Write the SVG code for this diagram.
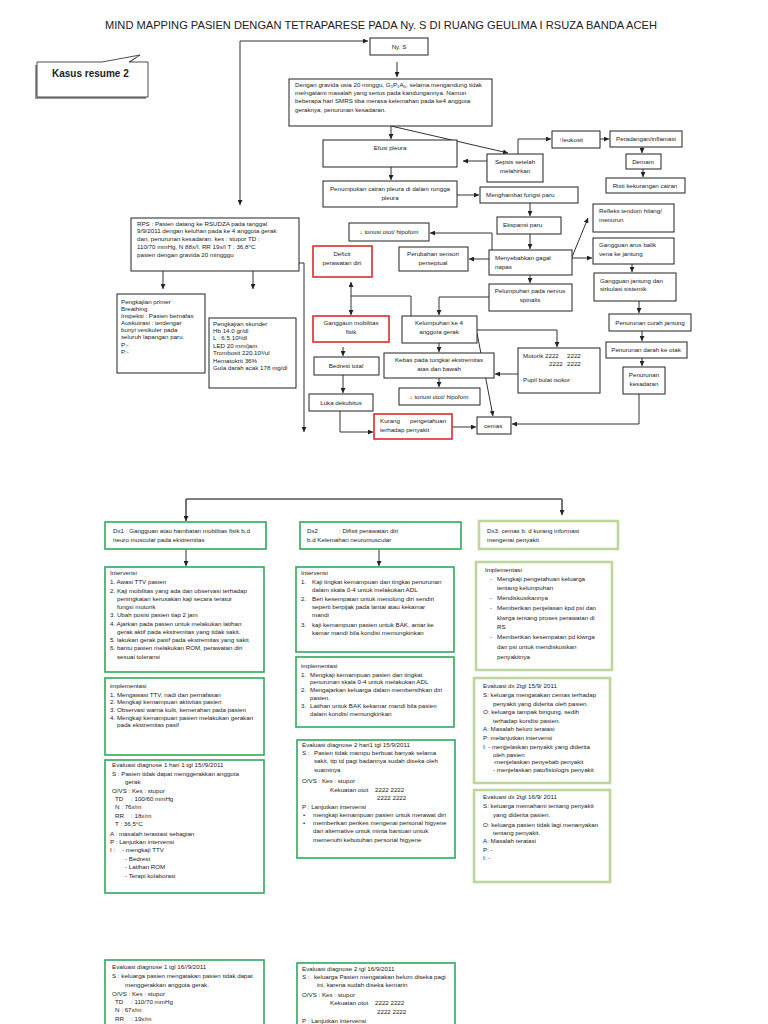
<svg xmlns="http://www.w3.org/2000/svg" width="768" height="1024" viewBox="0 0 768 1024">
<style>
.b{fill:#fff;stroke:#222;stroke-width:1}
.r{fill:#fff;stroke:#e02a2a;stroke-width:1.6}
.g{fill:#fff;stroke:#2eaa5a;stroke-width:1.6}
.lg{fill:#fff;stroke:#bdd69c;stroke-width:2.6}
text{font-family:"Liberation Sans",Arial,sans-serif;font-size:6.2px;fill:#222}
.c{text-anchor:middle}
.ln{stroke:#333;stroke-width:1;fill:none}
.ln2{stroke:#555;stroke-width:1.6;fill:none}
</style>
<defs>
<marker id="a" viewBox="0 0 6 6" refX="6" refY="3" markerWidth="5" markerHeight="5" orient="auto-start-reverse" markerUnits="userSpaceOnUse"><path d="M0,0 L6,3 L0,6 z" fill="#222"/></marker>
</defs>
<rect width="768" height="1024" fill="#fff"/>
<text x="381" y="29" class="c" style="font-size:10.5px" textLength="552" lengthAdjust="spacingAndGlyphs">MIND MAPPING PASIEN DENGAN TETRAPARESE PADA Ny. S DI RUANG GEULIMA I RSUZA BANDA ACEH</text>

<g id="kasus">
<path d="M35,65 L100,65 L138,57 L127,65 L146,65 L146,99 L35,99 Z" fill="#999"/>
<path d="M37,62 L102,62 L140,55 L129,62 L148,62 L148,97 L37,97 Z" fill="#fff" stroke="#222" stroke-width="0.8"/>
<text x="52" y="77" style="font-size:10px;font-weight:bold">Kasus resume 2</text>
</g>

<g id="connectors">
<path class="ln" d="M240,205 V41 H368" marker-start="url(#a)" marker-end="url(#a)"/>
<path class="ln" d="M397,62 V77" marker-end="url(#a)"/>
<path class="ln" d="M391,126 V139" marker-end="url(#a)"/>
<path class="ln" d="M391,126 L508,153" marker-end="url(#a)"/>
<path class="ln" d="M487,161 H463" marker-end="url(#a)"/>
<path class="ln" d="M391,167 V180" marker-end="url(#a)"/>
<path class="ln" d="M457,195 H479" marker-end="url(#a)"/>
<path class="ln" d="M518,154 V139 H551" marker-end="url(#a)"/>
<path class="ln" d="M600,139 H609" marker-end="url(#a)"/>
<path class="ln" d="M642,147 V153" marker-end="url(#a)"/>
<path class="ln" d="M643,169 V177" marker-end="url(#a)"/>
<path class="ln" d="M530,203 V216" marker-end="url(#a)"/>
<path class="ln" d="M530,234 V249" marker-end="url(#a)"/>
<path class="ln" d="M492,250 V233 H430" marker-end="url(#a)"/>
<path class="ln" d="M489,259 H469" marker-end="url(#a)"/>
<path class="ln" d="M572,257 L588,218" marker-end="url(#a)"/>
<path class="ln" d="M572,258 H592" marker-end="url(#a)"/>
<path class="ln" d="M632,264 V272" marker-end="url(#a)"/>
<path class="ln" d="M639,301 V313" marker-end="url(#a)"/>
<path class="ln" d="M642,331 V341" marker-end="url(#a)"/>
<path class="ln" d="M642,358 V366" marker-end="url(#a)"/>
<path class="ln" d="M639,394 V424 H512" marker-end="url(#a)"/>
<path class="ln" d="M530,275 V283" marker-end="url(#a)"/>
<path class="ln" d="M489,297 H439 V315" marker-end="url(#a)"/>
<path class="ln" d="M351,282 V315" marker-start="url(#a)" marker-end="url(#a)"/>
<path class="ln" d="M411,316 V296 H351"/>
<path class="ln" d="M439,343 V352" marker-end="url(#a)"/>
<path class="ln" d="M477,330 H557 V347" marker-end="url(#a)"/>
<path class="ln" d="M477,333 L493,416" marker-end="url(#a)"/>
<path class="ln" d="M439,378 V387" marker-end="url(#a)"/>
<path class="ln" d="M518,374 H495" marker-end="url(#a)"/>
<path class="ln" d="M343,347 V356" marker-end="url(#a)"/>
<path class="ln" d="M343,375 V393" marker-end="url(#a)"/>
<path class="ln" d="M340,411 V432 H373" marker-end="url(#a)"/>
<path class="ln" d="M452,427 H476" marker-end="url(#a)"/>
<path class="ln" d="M163,271 V289" marker-end="url(#a)"/>
<path class="ln" d="M253,271 V289" marker-end="url(#a)"/>
<path class="ln" d="M299,263 H304 V432" marker-end="url(#a)"/>
<path class="ln2" d="M186,499 H562"/>
<path class="ln2" d="M186,499 V521" marker-end="url(#a)"/>
<path class="ln2" d="M562,499 V515" marker-end="url(#a)"/>
<path class="ln" d="M186,549 V566" marker-end="url(#a)"/>
<path class="ln" d="M379,549 V566" marker-end="url(#a)"/>
</g>

<g id="nyS"><rect class="b" x="370" y="38" width="58" height="17"/><text x="399" y="48.5" class="c">Ny. S</text></g>
<g id="main"><rect class="b" x="289" y="79" width="203" height="47"/>
<text x="295" y="87">Dengan gravida usia 20 minggu, G<tspan style="font-size:4.2px" dy="1">1</tspan><tspan dy="-1">P</tspan><tspan style="font-size:4.2px" dy="1">1</tspan><tspan dy="-1">A</tspan><tspan style="font-size:4.2px" dy="1">0</tspan><tspan dy="-1">, selama mengandung tidak</tspan></text>
<text x="295" y="95">melngalami masalah yang serius pada kandungannya. Namun</text>
<text x="295" y="103">beberapa hari SMRS tiba merasa kelemahan pada ke4 anggota</text>
<text x="295" y="112">geraknya, penurunan kesadaran.</text></g>
<g id="efusi"><rect class="b" x="323" y="140" width="134" height="27"/><text x="390" y="150" class="c">Efusi pleura</text></g>
<g id="penumpukan"><rect class="b" x="323" y="181" width="134" height="26"/><text x="390" y="191" class="c">Penumpukan cairan pleura di dalam rongga</text><text x="390" y="200" class="c">pleura</text></g>
<g id="sepsis"><rect class="b" x="487" y="154" width="56" height="28"/><text x="515" y="164" class="c">Sepsis setelah</text><text x="515" y="173" class="c">melahirkan</text></g>
<g id="leukosit"><rect class="b" x="552" y="131" width="48" height="17"/><text x="559" y="142">↑leukosit</text></g>
<g id="peradangan"><rect class="b" x="610" y="131" width="72" height="16"/><text x="646" y="141" class="c">Peradangan/inflamasi</text></g>
<g id="demam"><rect class="b" x="626" y="154" width="35" height="15"/><text x="643" y="164" class="c">Demam</text></g>
<g id="risti"><rect class="b" x="606" y="178" width="79" height="15"/><text x="645" y="188" class="c">Risti kekurangan cairan</text></g>
<g id="menghambat"><rect class="b" x="480" y="187" width="98" height="16"/><text x="486" y="197">Menghambat fungsi paru</text></g>
<g id="ekspansi"><rect class="b" x="497" y="217" width="64" height="17"/><text x="503" y="227">Ekspansi paru</text></g>
<g id="tonus1"><rect class="b" x="349" y="223" width="80" height="18"/><text x="389" y="234" class="c">↓ tonusi otot/ hipofom</text></g>
<g id="deficit"><rect class="r" x="313" y="246" width="59" height="31"/><text x="342" y="256" class="c">Deficit</text><text x="342" y="265" class="c">perawatan diri</text></g>
<g id="perubahan"><rect class="b" x="399" y="247" width="69" height="24"/><text x="433" y="256" class="c">Perubahan sensori</text><text x="433" y="265" class="c">perseptual</text></g>
<g id="menyebabkan"><rect class="b" x="489" y="250" width="83" height="25"/><text x="495" y="260">Menyebabkan gagal</text><text x="495" y="269">napas</text></g>
<g id="refleks"><rect class="b" x="593" y="204" width="81" height="28"/><text x="599" y="213">Refleks tendom hilang/</text><text x="599" y="222">menurun</text></g>
<g id="arus"><rect class="b" x="593" y="238" width="81" height="26"/><text x="599" y="247">Gangguan arus balik</text><text x="599" y="256">vena ke jantung</text></g>
<g id="jantung"><rect class="b" x="594" y="273" width="82" height="28"/><text x="600" y="283">Gangguan jantung dan</text><text x="600" y="291">sirkulasi sistemik</text></g>
<g id="pelumpuhan"><rect class="b" x="489" y="284" width="83" height="27"/><text x="530" y="293" class="c">Pelumpuhan pada nervus</text><text x="530" y="302" class="c">spinalis</text></g>
<g id="curah"><rect class="b" x="609" y="314" width="82" height="17"/><text x="650" y="324.5" class="c">Penurunan curah jantung</text></g>
<g id="darah"><rect class="b" x="606" y="342" width="81" height="16"/><text x="646" y="352" class="c">Penurunan darah ke otak</text></g>
<g id="kesadaran"><rect class="b" x="623" y="367" width="42" height="27"/><text x="644" y="377" class="c">Penurunan</text><text x="644" y="386" class="c">kesadaran</text></g>
<g id="mobilitas"><rect class="r" x="313" y="316" width="76" height="26"/><text x="351" y="325" class="c">Ganggaun mobilitas</text><text x="351" y="334" class="c">fisik</text></g>
<g id="kelumpuhan"><rect class="b" x="402" y="316" width="75" height="27"/><text x="439" y="325" class="c">Kelumpuhan ke 4</text><text x="439" y="334" class="c">anggota gerak</text></g>
<g id="kebas"><rect class="b" x="384" y="353" width="110" height="25"/><text x="439" y="362" class="c">Kebas pada tungkai ekstremitas</text><text x="439" y="371" class="c">atas dan bawah</text></g>
<g id="motorik"><rect class="b" x="518" y="348" width="82" height="45"/><text x="523" y="358">Motorik 2222</text><text x="567" y="358">2222</text><text x="549" y="366">2222</text><text x="567" y="366">2222</text><text x="523" y="382">Pupil bulat isokor</text></g>
<g id="bedrest"><rect class="b" x="314" y="357" width="65" height="18"/><text x="346" y="367.5" class="c">Bedrest total</text></g>
<g id="tonus2"><rect class="b" x="399" y="388" width="81" height="17"/><text x="439" y="398.5" class="c">↓ tonusi otot/ hipofom</text></g>
<g id="luka"><rect class="b" x="309" y="394" width="64" height="17"/><text x="341" y="404.5" class="c">Luka dekubitus</text></g>
<g id="kurang"><rect class="r" x="374" y="414" width="78" height="25"/><text x="380" y="423">Kurang</text><text x="410" y="423">pengetahuan</text><text x="380" y="432">terhadap penyakit</text></g>
<g id="cemas"><rect class="b" x="477" y="417" width="34" height="17"/><text x="484" y="427.5">cemas</text></g>
<g id="rps"><rect class="b" x="131" y="218" width="168" height="53"/>
<text x="137" y="226">RPS : Pasien datang ke RSUDZA pada tanggal</text>
<text x="137" y="233">9/9/2011 dengan keluhan pada ke 4 anggota gerak</text>
<text x="137" y="241">dan, penurunan kesadaran. kes : stupor TD :</text>
<text x="137" y="249">110/70 mmHg, N 88x/I, RR 19x/I T : 36,8°C</text>
<text x="137" y="257">pasien dengan gravida 20 mingggu</text></g>
<g id="primer"><rect class="b" x="117" y="294" width="88" height="79"/>
<text x="121" y="304">Pengkajian primer</text><text x="121" y="311">Breathing</text><text x="121" y="318">Inspeksi : Pasien bernafas</text><text x="121" y="325">Auskutrasi : terdengar</text><text x="121" y="332">bunyi vesikuler pada</text><text x="121" y="339">seluruh lapangan paru.</text><text x="121" y="347">P:-</text><text x="121" y="354">P:-</text></g>
<g id="skunder"><rect class="b" x="209" y="318" width="87" height="70"/>
<text x="213" y="326">Pengkajian skunder</text><text x="213" y="333">Hb 14.0 gr/dl</text><text x="213" y="340">L : 6,5.10³/dl</text><text x="213" y="348">LED 20 mm/jam</text><text x="213" y="355">Trombosit 220.10³/ul</text><text x="213" y="363">Hematokrit 36%</text><text x="213" y="370">Gula darah acak 178 mg/dl</text></g>

<g id="dx1"><rect class="g" x="105" y="522" width="161" height="27"/><text x="113" y="533">Dx1 : Gangguan atau hambatan mobilitas fisik b.d</text><text x="113" y="542">neuro muscular pada ekstremitas</text></g>
<g id="dx2"><rect class="g" x="300" y="522" width="161" height="27"/><text x="307" y="533">Dx2</text><text x="339" y="533">: Difisit perawatan diri</text><text x="307" y="542">b.d Kelemahan neuromuscular</text></g>
<g id="dx3"><rect class="lg" x="479" y="521" width="139" height="28"/><text x="487" y="533">Dx3: cemas b. d kurang informasi</text><text x="487" y="542">mengenai penyakit</text></g>

<g id="int1"><rect class="g" x="105" y="567" width="159" height="105"/>
<text x="110" y="575">Intervensi</text>
<text x="110" y="584">1. Awasi TTV pasien</text>
<text x="110" y="593">2. Kaji mobilitas yang ada dan observasi terhadap</text>
<text x="117" y="601">peningkatan  kerusakan  kaji  secara  teratur</text>
<text x="117" y="609">fungsi motorik</text>
<text x="110" y="617">3. Ubah posisi pasien tiap 2 jam</text>
<text x="110" y="626">4. Ajarkan pada pasien untuk melakukan latihan</text>
<text x="117" y="634">gerak aktif pada ekstremitas yang tidak sakit.</text>
<text x="110" y="642">5. lakukan gerak pasif pada ekstremitas yang sakit</text>
<text x="110" y="650">6. bantu pasien melakukan ROM, perawatan diri</text>
<text x="117" y="659">sesuai toleransi</text></g>
<g id="imp1"><rect class="g" x="105" y="678" width="159" height="77"/>
<text x="110" y="688">implementasi</text>
<text x="110" y="697">1. Mengawasi TTV, nadi dan pernafasan</text>
<text x="110" y="704">2. Mengkaji kemampuan aktivitas pasien</text>
<text x="110" y="712">3. Observasi warna kulit, kemerahan pada pasien</text>
<text x="110" y="720">4. Mengkaji kemampuan pasien melakukan gerakan</text>
<text x="117" y="727">pada ekstremitas pasif</text></g>
<g id="eval1"><rect class="g" x="105" y="760" width="159" height="133"/>
<text x="112" y="767">Evaluasi diagnose 1 hari 1 tgl 15//9/2011</text>
<text x="112" y="776">S :  Pasien  tidak  dapat  menggerakkan  anggota</text>
<text x="125" y="784">gerak</text>
<text x="112" y="793">O/VS : Kes : stupor</text>
<text x="115" y="801">TD</text><text x="131" y="801">: 100/60 mmHg</text>
<text x="115" y="809">N : 76x/m</text>
<text x="115" y="818">RR</text><text x="131" y="818">: 18x/m</text>
<text x="115" y="826">T : 36,5°C</text>
<text x="110" y="836">A : masalah terastasi sebagian</text>
<text x="110" y="844">P  : Lanjutkan intervensi</text>
<text x="110" y="852">I  :</text><text x="122" y="852">- mengkaji TTV</text>
<text x="125" y="861">- Bedrest</text>
<text x="125" y="869">- Latihan ROM</text>
<text x="125" y="878">- Terapi kolaborasi</text></g>
<g id="eval1b"><rect class="g" x="105" y="960" width="159" height="70"/>
<text x="112" y="969">Evaluasi diagnose 1 tgl 16//9/2011</text>
<text x="112" y="978">S :  keluarga pasien mengatakan pasien tidak dapat</text>
<text x="125" y="987">menggerakkan anggota gerak.</text>
<text x="112" y="996">O/VS : Kes : stupor</text>
<text x="115" y="1004">TD</text><text x="131" y="1004">: 110/70 mmHg</text>
<text x="115" y="1012">N : 67x/m</text>
<text x="115" y="1021">RR</text><text x="131" y="1021">: 19x/m</text></g>

<g id="int2"><rect class="g" x="296" y="567" width="158" height="85"/>
<text x="301" y="575">Intervensi</text>
<text x="301" y="584">1.</text><text x="312" y="584">Kaji tingkat kemampuan dan tingkat penurunan</text>
<text x="312" y="592">dalam skala 0-4 untuk melakukan ADL</text>
<text x="301" y="601">2.</text><text x="312" y="601">Beri kesempatan untuk menolong diri sendiri</text>
<text x="312" y="609">seperti berpijak pada lantai atau kekamar</text>
<text x="312" y="617">mandi</text>
<text x="301" y="627">3.</text><text x="312" y="627">kaji kemampuan pasien untuk BAK, antar ke</text>
<text x="312" y="635">kamar mandi bila kondisi memungkinkan</text></g>
<g id="imp2"><rect class="g" x="296" y="657" width="158" height="70"/>
<text x="301" y="668">implementasi</text>
<text x="301" y="677">1.</text><text x="310" y="677">Mengkaji  kemampuan  pasien  dan  tingkat</text>
<text x="310" y="684">penurunan skala 0-4 untuk melakukan ADL</text>
<text x="301" y="692">2.</text><text x="310" y="692">Mengajarkan keluarga dalam membersihkan diri</text>
<text x="310" y="700">pasien.</text>
<text x="301" y="708">3.</text><text x="310" y="708">Latihan untuk BAK kekamar mandi bila pasien</text>
<text x="310" y="716">dalam kondisi memungkinkan</text></g>
<g id="eval2"><rect class="g" x="297" y="740" width="158" height="118"/>
<text x="302" y="747">Evaluasi diagnose 2 hari1 tgl 15/9/2011</text>
<text x="302" y="755">S :</text><text x="314" y="755">Pasien  tidak  mampu  berbuat  banyak  selama</text>
<text x="314" y="763">sakit, ttp td pagi badannya sudah diseka oleh</text>
<text x="314" y="772">suaminya</text>
<text x="302" y="783">O/VS : Kes : stupor</text>
<text x="330" y="792">Kekuatan otot</text><text x="375" y="792">2222  2222</text>
<text x="377" y="800">2222  2222</text>
<text x="302" y="809">P  : Lanjutkan intervensi</text>
<text x="303" y="817">•</text><text x="313" y="817">mengkaji kemampuan pasien untuk merawat diri</text>
<text x="303" y="825">•</text><text x="313" y="825">memberikan penkes mengenai personal higyene</text>
<text x="313" y="833">dan alternative untuk minta bantuan untuk</text>
<text x="313" y="842">memenuhi kebutuhan personal higyene</text></g>
<g id="eval2b"><rect class="g" x="297" y="963" width="158" height="70"/>
<text x="302" y="971">Evaluasi diagnose 2 tgl 16/9/2011</text>
<text x="302" y="979">S :</text><text x="314" y="979">keluarga Pasien mengatakan belum diseka pagi</text>
<text x="317" y="987">ini, karena sudah diseka kemarin</text>
<text x="302" y="997">O/VS : Kes : stupor</text>
<text x="330" y="1005">Kekuatan otot</text><text x="375" y="1005">2222  2222</text>
<text x="377" y="1014">2222  2222</text>
<text x="302" y="1023">P  : Lanjutkan intervensi</text></g>

<g id="imp3"><rect class="lg" x="476" y="562" width="136" height="108"/>
<text x="485" y="572">Implementasi</text>
<text x="490" y="581">-</text><text x="497" y="581">Mengkaji pengetahuan keluarga</text>
<text x="497" y="590">tentang kelumpuhan</text>
<text x="490" y="600">-</text><text x="497" y="600">Mendiskusikannya</text>
<text x="490" y="610">-</text><text x="497" y="610">Memberikan penjelasan kpd psi dan</text>
<text x="497" y="620">klwrga tentang proses perawatan di</text>
<text x="497" y="629">RS</text>
<text x="490" y="639">-</text><text x="497" y="639">Memberikan kesempatan pd klwrga</text>
<text x="497" y="649">dan psi untuk mendiskusikan</text>
<text x="497" y="659">penyakitnya</text></g>
<g id="eval3"><rect class="lg" x="474" y="678" width="136" height="105"/>
<text x="483" y="688">Evaluasi dx 2tgl 15/9/ 2011</text>
<text x="483" y="697">S: keluarga mengatakan cemas terhadap</text>
<text x="493" y="706">penyakit yang diderita oleh pasien.</text>
<text x="483" y="714">O: keluarga tampak bingung, sedih</text>
<text x="493" y="723">terhadap kondisi pasien.</text>
<text x="483" y="731">A: Masalah belum teratasi</text>
<text x="483" y="740">P: melanjutkan intervensi</text>
<text x="483" y="749">I: - menjjelaskan penyakit yang diderita</text>
<text x="493" y="757">oleh pasien</text>
<text x="493" y="764">-menjelaskan penyebab penyakit</text>
<text x="493" y="772">- menjelaskan patofisiologis penyakit</text></g>
<g id="eval3b"><rect class="lg" x="474" y="790" width="136" height="92"/>
<text x="483" y="799">Evaluasi dx 2tgl 16/9/ 2011</text>
<text x="483" y="808">S: keluarga memahami tentang penyakit</text>
<text x="493" y="817">yang diderita pasien.</text>
<text x="483" y="827">O: keluarga pasien tidak lagi menanyakan</text>
<text x="493" y="835">tentang penyakit.</text>
<text x="483" y="843">A: Masalah teratasi</text>
<text x="483" y="852">P: -</text>
<text x="483" y="860">I: -</text></g>
</svg>
